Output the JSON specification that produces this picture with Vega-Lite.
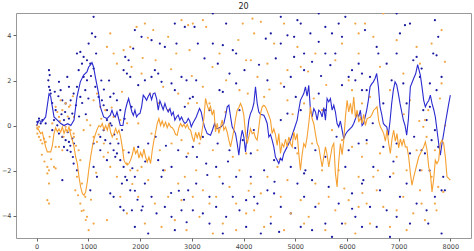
{
  "$schema": "https://vega.github.io/schema/vega-lite/v6.json",
  "width": 455,
  "height": 225,
  "autosize": "none",
  "padding": {"left": 16, "top": 13, "right": 3, "bottom": 13},
  "background": "white",
  "title": {"text": "20", "fontSize": 8, "fontWeight": "normal", "font": "DejaVu Sans", "color": "#222", "offset": 2},
  "config": {
    "view": {"stroke": "#999", "strokeWidth": 1},
    "axis": {"grid": false, "domain": false, "labelFontSize": 6.5, "labelFont": "DejaVu Sans", "labelColor": "#444", "tickColor": "#666", "tickSize": 3, "title": null, "labelPadding": 2}
  },
  "datasets": {
    "bp": [
      {"x":13,"y":0.16},{"x":45,"y":0.31},{"x":77,"y":0.09},{"x":109,"y":0.24},{"x":174,"y":0.09},{"x":238,"y":2.46},{"x":251,"y":2.24},{"x":225,"y":2.01},{"x":238,"y":1.72},{"x":257,"y":1.57},{"x":270,"y":1.42},{"x":431,"y":1.94},{"x":592,"y":2.16},{"x":624,"y":1.72},{"x":463,"y":1.57},{"x":496,"y":1.12},{"x":560,"y":0.98},{"x":657,"y":1.12},{"x":367,"y":0.68},{"x":335,"y":0.24},{"x":528,"y":0.24},{"x":624,"y":0.31},{"x":689,"y":0.53},{"x":431,"y":-0.36},{"x":496,"y":-0.51},{"x":560,"y":-0.65},{"x":624,"y":-0.73},{"x":689,"y":-0.58},{"x":528,"y":-0.95},{"x":592,"y":-1.1},{"x":657,"y":-1.17},{"x":721,"y":-0.8},{"x":496,"y":-2.43},{"x":302,"y":-0.21},{"x":399,"y":0.01},
      {"x":1101,"y":4.83},{"x":1069,"y":4.09},{"x":1134,"y":3.94},{"x":1005,"y":3.64},{"x":844,"y":3.27},{"x":779,"y":3.2},{"x":908,"y":3.05},{"x":973,"y":2.9},{"x":1037,"y":2.75},{"x":1101,"y":2.53},{"x":876,"y":2.75},{"x":812,"y":2.46},{"x":908,"y":2.16},{"x":973,"y":2.01},{"x":779,"y":1.72},{"x":715,"y":1.42},{"x":844,"y":1.27},{"x":940,"y":1.57},{"x":1134,"y":1.72},{"x":1198,"y":1.27},{"x":1262,"y":1.12},{"x":1295,"y":0.9},{"x":1359,"y":0.68},{"x":1423,"y":1.27},{"x":1488,"y":1.42},{"x":1552,"y":1.12},{"x":1617,"y":0.68},{"x":1681,"y":2.46},{"x":1745,"y":2.31},{"x":1810,"y":2.16},{"x":1713,"y":3.05},{"x":1778,"y":2.9},{"x":1359,"y":0.24},{"x":1423,"y":0.09},{"x":1295,"y":-0.21},{"x":1230,"y":-0.51},{"x":1327,"y":-0.65},{"x":1423,"y":-0.8},{"x":1488,"y":-1.1},{"x":1552,"y":-1.24},{"x":1520,"y":-1.39},{"x":1617,"y":-1.54},{"x":1681,"y":-1.84},{"x":1713,"y":-2.28},{"x":1745,"y":-2.43},{"x":1649,"y":-2.58},{"x":1423,"y":-3.02},{"x":1488,"y":-3.17},{"x":1617,"y":-3.62},{"x":1681,"y":-3.77},{"x":1810,"y":-2.88},{"x":1842,"y":-3.77},{"x":715,"y":-1.69},{"x":779,"y":-1.99},{"x":1101,"y":-1.84},{"x":1166,"y":-2.28},{"x":1037,"y":-2.88},{"x":1230,"y":-1.1},{"x":1359,"y":-1.54},{"x":1101,"y":-0.8},
      {"x":2672,"y":4.53},{"x":2865,"y":4.38},{"x":1899,"y":4.24},{"x":2028,"y":3.94},{"x":2221,"y":3.79},{"x":2382,"y":3.64},{"x":2479,"y":3.49},{"x":2704,"y":3.64},{"x":1867,"y":3.42},{"x":2286,"y":2.46},{"x":2350,"y":2.31},{"x":2221,"y":2.16},{"x":2415,"y":1.94},{"x":2608,"y":1.87},{"x":2801,"y":2.16},{"x":2898,"y":2.01},{"x":2672,"y":1.57},{"x":2865,"y":0.83},{"x":2962,"y":1.2},{"x":1964,"y":1.79},{"x":2093,"y":2.01},{"x":1835,"y":0.83},{"x":1964,"y":-0.95},{"x":2157,"y":-0.8},{"x":2350,"y":-1.54},{"x":2447,"y":-1.99},{"x":2608,"y":-1.84},{"x":2737,"y":-1.1},{"x":2898,"y":-1.39},{"x":1899,"y":-2.28},{"x":2093,"y":-2.58},{"x":2221,"y":-3.17},{"x":2028,"y":-3.77},{"x":2318,"y":-3.91},{"x":2479,"y":-3.62},{"x":2608,"y":-4.06},{"x":2801,"y":-3.77},{"x":2930,"y":-2.88},{"x":1899,"y":-4.51},{"x":2157,"y":-4.8},{"x":2672,"y":-4.65},{"x":2415,"y":-2.28},
      {"x":3407,"y":4.98},{"x":3664,"y":4.53},{"x":3053,"y":4.38},{"x":3117,"y":3.64},{"x":3407,"y":3.64},{"x":3600,"y":3.57},{"x":3793,"y":3.35},{"x":3858,"y":3.2},{"x":3246,"y":2.98},{"x":3503,"y":2.75},{"x":3729,"y":2.31},{"x":4019,"y":2.46},{"x":3085,"y":2.01},{"x":3536,"y":1.57},{"x":3600,"y":1.49},{"x":3858,"y":1.87},{"x":3020,"y":1.27},{"x":3342,"y":0.68},{"x":3922,"y":0.68},{"x":3020,"y":-0.95},{"x":3214,"y":-0.51},{"x":3729,"y":-1.1},{"x":3986,"y":-0.65},{"x":3278,"y":-1.69},{"x":3471,"y":-1.84},{"x":3858,"y":-2.28},{"x":3085,"y":-2.58},{"x":3600,"y":-2.58},{"x":3342,"y":-3.17},{"x":3793,"y":-3.17},{"x":4051,"y":-3.32},{"x":3020,"y":-3.77},{"x":3214,"y":-3.91},{"x":3471,"y":-3.62},{"x":3664,"y":-4.06},{"x":3922,"y":-3.77},{"x":3342,"y":-4.36},{"x":3600,"y":-4.8},{"x":4051,"y":-4.51},
      {"x":4721,"y":4.83},{"x":5043,"y":4.68},{"x":5107,"y":4.53},{"x":4528,"y":4.09},{"x":4850,"y":4.01},{"x":4979,"y":3.94},{"x":4431,"y":3.86},{"x":4721,"y":3.64},{"x":4979,"y":3.05},{"x":5172,"y":3.2},{"x":4624,"y":2.98},{"x":5172,"y":2.46},{"x":4914,"y":2.16},{"x":4463,"y":2.01},{"x":4785,"y":1.72},{"x":5011,"y":1.27},{"x":4721,"y":0.24},{"x":4850,"y":0.53},{"x":5107,"y":0.68},{"x":4141,"y":-1.24},{"x":4592,"y":-1.54},{"x":4914,"y":-1.84},{"x":5172,"y":-2.13},{"x":4399,"y":-1.99},{"x":4141,"y":-2.28},{"x":4463,"y":-2.88},{"x":4592,"y":-3.02},{"x":5043,"y":-2.58},{"x":4206,"y":-3.17},{"x":4270,"y":-3.47},{"x":4721,"y":-3.62},{"x":5172,"y":-3.17},{"x":4914,"y":-3.91},{"x":4528,"y":-4.36},{"x":4689,"y":-4.73},{"x":5107,"y":-4.51},{"x":4335,"y":-4.8},
      {"x":5455,"y":4.98},{"x":5970,"y":4.83},{"x":5583,"y":4.38},{"x":5712,"y":4.09},{"x":5841,"y":4.53},{"x":5294,"y":4.09},{"x":5455,"y":3.72},{"x":5905,"y":3.94},{"x":5583,"y":3.2},{"x":5776,"y":3.2},{"x":5326,"y":2.83},{"x":5680,"y":2.68},{"x":6099,"y":2.46},{"x":6227,"y":2.75},{"x":6292,"y":2.31},{"x":6034,"y":2.16},{"x":6163,"y":2.01},{"x":5905,"y":1.79},{"x":5455,"y":1.42},{"x":6292,"y":1.57},{"x":5583,"y":0.68},{"x":5390,"y":-1.1},{"x":5583,"y":-1.39},{"x":5197,"y":-1.99},{"x":6034,"y":-1.1},{"x":6227,"y":-0.8},{"x":5970,"y":-1.84},{"x":5326,"y":-2.43},{"x":6292,"y":-2.58},{"x":5648,"y":-2.73},{"x":6099,"y":-3.02},{"x":5841,"y":-3.47},{"x":5390,"y":-3.62},{"x":6163,"y":-4.06},{"x":5583,"y":-4.36},{"x":5905,"y":-4.36},{"x":5326,"y":-4.65},{"x":6292,"y":-4.51},{"x":5712,"y":-4.95},
      {"x":6962,"y":4.98},{"x":7220,"y":4.53},{"x":7123,"y":4.46},{"x":7026,"y":4.09},{"x":6350,"y":4.24},{"x":6576,"y":3.49},{"x":6608,"y":3.2},{"x":6962,"y":3.2},{"x":7284,"y":2.9},{"x":7348,"y":3.05},{"x":6769,"y":2.75},{"x":7445,"y":2.53},{"x":6447,"y":2.16},{"x":6865,"y":2.01},{"x":6382,"y":1.57},{"x":7091,"y":1.87},{"x":6704,"y":0.98},{"x":7155,"y":0.98},{"x":6382,"y":-0.65},{"x":6704,"y":-0.95},{"x":6962,"y":-0.8},{"x":7220,"y":-1.24},{"x":6511,"y":-1.84},{"x":7413,"y":-1.99},{"x":6833,"y":-2.28},{"x":6318,"y":-2.43},{"x":7155,"y":-2.58},{"x":6640,"y":-2.88},{"x":7026,"y":-3.17},{"x":7348,"y":-3.47},{"x":6447,"y":-3.62},{"x":6769,"y":-3.77},{"x":6962,"y":-4.06},{"x":7220,"y":-4.36},{"x":6576,"y":-4.51},{"x":6833,"y":-4.95},
      {"x":7702,"y":4.68},{"x":7766,"y":3.94},{"x":7670,"y":3.2},{"x":7734,"y":3.12},{"x":7831,"y":2.16},{"x":7605,"y":1.87},{"x":7734,"y":1.57},{"x":7477,"y":0.68},{"x":7605,"y":0.83},{"x":7541,"y":0.24},{"x":7702,"y":-0.21},{"x":7638,"y":-0.65},{"x":7444,"y":-1.1},{"x":7509,"y":-1.24},{"x":7766,"y":-0.95},{"x":7863,"y":-2.28},{"x":7895,"y":-2.88},{"x":7831,"y":-2.88},{"x":7702,"y":-3.17},{"x":7541,"y":-3.77},{"x":7573,"y":-4.36},{"x":7831,"y":-4.8},{"x":7412,"y":2.16},
      {"x":300,"y":1.0},{"x":350,"y":1.5},{"x":420,"y":1.3},{"x":480,"y":0.5},{"x":550,"y":0.6},{"x":600,"y":-0.3},{"x":650,"y":-0.9},{"x":700,"y":-1.4},{"x":760,"y":0.9},{"x":820,"y":0.4},{"x":880,"y":1.0},{"x":950,"y":0.5},{"x":1000,"y":1.2},{"x":1050,"y":2.2},{"x":1150,"y":3.2},{"x":1250,"y":2.0},{"x":1300,"y":1.6},{"x":1400,"y":2.0},{"x":1450,"y":0.0},{"x":1500,"y":-0.4},{"x":1580,"y":-0.8},{"x":1650,"y":-0.2},{"x":1700,"y":0.3},{"x":1780,"y":-1.2},{"x":1850,"y":-1.9},{"x":1900,"y":-2.9},{"x":1950,"y":-3.3},{"x":2050,"y":-3.6},{"x":2100,"y":-1.6},{"x":2300,"y":-0.5},{"x":2500,"y":-0.9},{"x":2600,"y":-3.0},{"x":2750,"y":-2.9},{"x":2850,"y":-3.3},{"x":2900,"y":-4.3},{"x":3100,"y":-1.4},{"x":3300,"y":-2.2},{"x":3500,"y":-0.8},{"x":3700,"y":-1.6},{"x":4200,"y":-0.2},{"x":4300,"y":2.7},{"x":4600,"y":-2.5},{"x":5000,"y":-1.0},{"x":5500,"y":2.2},{"x":5800,"y":-0.5},{"x":6100,"y":-3.7},{"x":6500,"y":0.1},{"x":6900,"y":-1.6},{"x":7300,"y":-0.5},{"x":7600,"y":-2.0}
    ],
    "op": [
      {"x":5,"y":0.01},{"x":13,"y":-0.14},{"x":45,"y":-0.06},{"x":13,"y":-0.36},{"x":45,"y":-0.51},{"x":77,"y":-0.65},{"x":109,"y":-0.8},{"x":141,"y":-0.58},{"x":174,"y":-0.73},{"x":206,"y":-1.84},{"x":238,"y":-1.99},{"x":206,"y":-2.13},{"x":238,"y":-2.58},{"x":206,"y":-3.32},{"x":238,"y":-3.47},{"x":335,"y":-1.84},{"x":367,"y":-1.91},{"x":431,"y":0.38},{"x":367,"y":0.83},{"x":496,"y":0.68},{"x":560,"y":0.98},{"x":463,"y":1.12},{"x":624,"y":0.83},{"x":721,"y":0.38},{"x":431,"y":-0.95},{"x":496,"y":-1.1},{"x":657,"y":-0.21},{"x":721,"y":-0.51},{"x":367,"y":-0.95},{"x":302,"y":0.09},{"x":560,"y":-0.06},
      {"x":1423,"y":4.09},{"x":1359,"y":3.49},{"x":1488,"y":3.2},{"x":1552,"y":2.75},{"x":1681,"y":3.35},{"x":1810,"y":3.49},{"x":1101,"y":1.12},{"x":1166,"y":1.42},{"x":1230,"y":0.83},{"x":1327,"y":0.68},{"x":1488,"y":0.38},{"x":1617,"y":0.24},{"x":908,"y":-0.21},{"x":973,"y":0.24},{"x":1037,"y":0.01},{"x":1101,"y":-0.51},{"x":1166,"y":-0.73},{"x":812,"y":-1.1},{"x":844,"y":-1.54},{"x":779,"y":-2.28},{"x":876,"y":-2.58},{"x":940,"y":-3.17},{"x":844,"y":-3.47},{"x":973,"y":-4.06},{"x":1101,"y":-4.36},{"x":1005,"y":-4.65},{"x":908,"y":-3.77},{"x":1681,"y":-1.1},{"x":1745,"y":-1.69},{"x":1810,"y":-1.99},{"x":1552,"y":-2.28},{"x":1617,"y":-3.17},{"x":1745,"y":-3.91},{"x":1359,"y":-4.21},{"x":715,"y":-0.36},{"x":747,"y":-2.88},{"x":1295,"y":-1.39},{"x":1423,"y":-1.84},
      {"x":2093,"y":4.53},{"x":2930,"y":4.46},{"x":1932,"y":4.38},{"x":2254,"y":4.24},{"x":2543,"y":3.94},{"x":2801,"y":4.68},{"x":1835,"y":2.61},{"x":2028,"y":2.31},{"x":2189,"y":1.42},{"x":2447,"y":1.72},{"x":2737,"y":1.42},{"x":2930,"y":0.98},{"x":2543,"y":0.68},{"x":1964,"y":0.09},{"x":2221,"y":-0.36},{"x":2382,"y":-1.1},{"x":2608,"y":-0.8},{"x":2801,"y":-0.65},{"x":2930,"y":-1.24},{"x":2028,"y":-1.84},{"x":2157,"y":-2.43},{"x":2479,"y":-1.99},{"x":2737,"y":-2.58},{"x":2865,"y":-2.28},{"x":1964,"y":-3.17},{"x":2286,"y":-3.47},{"x":2543,"y":-3.17},{"x":2801,"y":-3.32},{"x":2093,"y":-4.36},{"x":2415,"y":-4.51},{"x":2672,"y":-4.21},{"x":2898,"y":-4.65},
      {"x":3020,"y":4.53},{"x":3278,"y":4.38},{"x":3214,"y":4.68},{"x":3986,"y":4.53},{"x":2956,"y":3.35},{"x":3536,"y":3.2},{"x":4051,"y":2.9},{"x":3664,"y":2.01},{"x":3922,"y":1.57},{"x":3214,"y":1.72},{"x":3342,"y":0.98},{"x":4083,"y":1.42},{"x":3149,"y":-0.8},{"x":3407,"y":-1.1},{"x":3793,"y":-1.39},{"x":4051,"y":-1.24},{"x":3085,"y":-1.99},{"x":3536,"y":-2.28},{"x":3922,"y":-1.99},{"x":3214,"y":-2.88},{"x":3729,"y":-2.73},{"x":3471,"y":-3.17},{"x":3020,"y":-3.17},{"x":3342,"y":-3.47},{"x":3858,"y":-3.47},{"x":4051,"y":-3.91},{"x":3149,"y":-4.06},{"x":3600,"y":-4.36},{"x":3858,"y":-4.65},{"x":3407,"y":-4.8},
      {"x":4174,"y":4.75},{"x":4335,"y":4.61},{"x":4785,"y":4.53},{"x":4206,"y":4.09},{"x":4592,"y":3.64},{"x":5043,"y":3.49},{"x":4141,"y":2.9},{"x":4463,"y":2.75},{"x":4850,"y":2.46},{"x":5107,"y":2.61},{"x":4270,"y":2.16},{"x":4721,"y":1.87},{"x":4399,"y":1.27},{"x":4850,"y":1.12},{"x":5172,"y":0.98},{"x":4270,"y":-1.1},{"x":4657,"y":-1.84},{"x":5043,"y":-1.24},{"x":4141,"y":-2.58},{"x":4463,"y":-2.28},{"x":4850,"y":-2.43},{"x":4335,"y":-3.02},{"x":4721,"y":-3.17},{"x":5107,"y":-3.32},{"x":4206,"y":-3.77},{"x":4528,"y":-4.06},{"x":4914,"y":-3.91},{"x":4399,"y":-4.51},{"x":4785,"y":-4.65},{"x":5172,"y":-4.36},
      {"x":6163,"y":4.53},{"x":6227,"y":4.09},{"x":5905,"y":3.64},{"x":5776,"y":2.9},{"x":5390,"y":3.2},{"x":6227,"y":3.2},{"x":6034,"y":2.01},{"x":5358,"y":1.2},{"x":6292,"y":0.98},{"x":5519,"y":0.68},{"x":6099,"y":1.57},{"x":5326,"y":-0.8},{"x":5712,"y":-0.21},{"x":5905,"y":-0.65},{"x":6099,"y":-0.95},{"x":6292,"y":-1.39},{"x":5519,"y":-1.99},{"x":5841,"y":-1.99},{"x":5390,"y":-2.58},{"x":6227,"y":-2.28},{"x":5648,"y":-3.17},{"x":6034,"y":-3.32},{"x":5455,"y":-3.47},{"x":6227,"y":-3.62},{"x":5776,"y":-3.77},{"x":5261,"y":-4.06},{"x":5970,"y":-4.36},{"x":5583,"y":-4.65},{"x":6163,"y":-4.8},
      {"x":6704,"y":4.98},{"x":6350,"y":4.53},{"x":6511,"y":3.94},{"x":6962,"y":3.79},{"x":7348,"y":3.49},{"x":6640,"y":2.61},{"x":7091,"y":2.31},{"x":7413,"y":2.75},{"x":6447,"y":1.27},{"x":6833,"y":1.57},{"x":7220,"y":1.12},{"x":6382,"y":-0.8},{"x":6640,"y":-1.24},{"x":6962,"y":-1.39},{"x":7348,"y":-1.1},{"x":6511,"y":-2.28},{"x":6898,"y":-2.13},{"x":7155,"y":-1.99},{"x":6576,"y":-2.88},{"x":7091,"y":-3.17},{"x":7413,"y":-2.88},{"x":6382,"y":-3.47},{"x":6704,"y":-3.62},{"x":6962,"y":-3.77},{"x":7284,"y":-3.91},{"x":6447,"y":-4.36},{"x":6833,"y":-4.51},{"x":7155,"y":-4.65},
      {"x":7831,"y":4.24},{"x":7638,"y":3.64},{"x":7895,"y":2.83},{"x":7831,"y":1.87},{"x":7799,"y":1.2},{"x":7573,"y":0.68},{"x":7509,"y":0.24},{"x":7541,"y":-0.51},{"x":7477,"y":-0.06},{"x":7702,"y":-1.1},{"x":7444,"y":-1.99},{"x":7638,"y":-2.28},{"x":7766,"y":-2.73},{"x":7863,"y":-2.95},{"x":7702,"y":-3.47},{"x":7734,"y":-3.77},{"x":7509,"y":-4.21},{"x":7444,"y":-3.47},
      {"x":100,"y":-1.3},{"x":150,"y":-1.6},{"x":250,"y":-0.5},{"x":280,"y":-1.5},{"x":400,"y":0.6},{"x":450,"y":0.2},{"x":520,"y":-0.5},{"x":600,"y":0.4},{"x":650,"y":0.9},{"x":700,"y":1.3},{"x":760,"y":-0.9},{"x":800,"y":-3.1},{"x":870,"y":-3.8},{"x":950,"y":-4.2},{"x":1050,"y":-3.3},{"x":1150,"y":-2.1},{"x":1200,"y":-0.4},{"x":1250,"y":0.3},{"x":1300,"y":-0.8},{"x":1380,"y":-1.2},{"x":1450,"y":0.8},{"x":1550,"y":-0.6},{"x":1650,"y":1.5},{"x":1750,"y":0.1},{"x":1850,"y":-2.6},{"x":1950,"y":-2.0},{"x":2050,"y":3.0},{"x":2150,"y":3.9},{"x":2300,"y":2.9},{"x":2350,"y":1.0},{"x":2600,"y":2.5},{"x":2700,"y":3.2},{"x":3000,"y":2.2},{"x":3100,"y":1.0},{"x":3400,"y":2.6},{"x":3650,"y":0.6},{"x":3900,"y":3.8},{"x":4100,"y":-2.9},{"x":4500,"y":1.6},{"x":4700,"y":-1.5},{"x":4950,"y":0.5},{"x":5250,"y":2.4},{"x":5600,"y":1.8},{"x":5950,"y":-2.8},{"x":6300,"y":-3.0},{"x":6600,"y":-2.0},{"x":6800,"y":-0.4},{"x":7100,"y":0.5},{"x":7400,"y":0.2},{"x":7900,"y":0.0}
    ],
    "bl": [
      {"x":0,"y":0},{"x":45,"y":0.23},{"x":100,"y":0.15},{"x":174,"y":0.38},{"x":238,"y":1.4},{"x":270,"y":1.3},{"x":303,"y":0.83},{"x":335,"y":0.38},{"x":400,"y":0.24},{"x":460,"y":0.1},{"x":528,"y":0},{"x":600,"y":0.08},{"x":660,"y":0},{"x":722,"y":0.24},{"x":779,"y":1.27},{"x":844,"y":1.94},{"x":908,"y":2.24},{"x":972,"y":2.38},{"x":1005,"y":2.6},{"x":1037,"y":2.68},{"x":1069,"y":2.8},{"x":1100,"y":2.6},{"x":1134,"y":2.16},{"x":1198,"y":1.42},{"x":1231,"y":0.83},{"x":1295,"y":0.38},{"x":1360,"y":0.31},{"x":1424,"y":0.46},{"x":1456,"y":0.68},{"x":1490,"y":0.45},{"x":1520,"y":0.38},{"x":1553,"y":0.6},{"x":1585,"y":0.3},{"x":1617,"y":0},{"x":1668,"y":0},{"x":1714,"y":0.68},{"x":1750,"y":1.0},{"x":1778,"y":1.2},{"x":1810,"y":0.9},{"x":1842,"y":0.6},{"x":1870,"y":0.45},{"x":1900,"y":0.68},{"x":1932,"y":0.38},{"x":1965,"y":0.5},{"x":1997,"y":0.53},{"x":2029,"y":0.83},{"x":2061,"y":1.35},{"x":2094,"y":1.25},{"x":2126,"y":1.12},{"x":2158,"y":1.3},{"x":2190,"y":1.42},{"x":2222,"y":1.15},{"x":2255,"y":1.42},{"x":2287,"y":1.45},{"x":2319,"y":1.2},{"x":2351,"y":0.68},{"x":2383,"y":1.1},{"x":2415,"y":0.9},{"x":2447,"y":0.7},{"x":2480,"y":0.98},{"x":2512,"y":0.75},{"x":2544,"y":0.6},{"x":2577,"y":0.75},{"x":2609,"y":0.46},{"x":2641,"y":0.6},{"x":2673,"y":0.24},{"x":2705,"y":0.38},{"x":2737,"y":0.46},{"x":2769,"y":0.24},{"x":2802,"y":0.38},{"x":2834,"y":0.2},{"x":2866,"y":0.09},{"x":2898,"y":0.15},{"x":2931,"y":0.31},{"x":2960,"y":0.2},{"x":2990,"y":-0.06},{"x":3020,"y":0.1},{"x":3086,"y":0.38},{"x":3150,"y":0.76},{"x":3182,"y":0.6},{"x":3214,"y":0.24},{"x":3246,"y":-0.06},{"x":3298,"y":-0.36},{"x":3362,"y":-0.43},{"x":3400,"y":-0.2},{"x":3440,"y":0.09},{"x":3470,"y":-0.13},{"x":3504,"y":-0.13},{"x":3568,"y":-0.06},{"x":3620,"y":0.09},{"x":3650,"y":0.4},{"x":3685,"y":0.83},{"x":3717,"y":0.9},{"x":3749,"y":0.4},{"x":3781,"y":-0.06},{"x":3846,"y":-0.36},{"x":3878,"y":-0.8},{"x":3910,"y":-1.32},{"x":3942,"y":-0.65},{"x":3975,"y":-0.21},{"x":4006,"y":-0.5},{"x":4039,"y":-1.17},{"x":4071,"y":-0.4},{"x":4103,"y":0.24},{"x":4135,"y":0.53},{"x":4168,"y":0.7},{"x":4200,"y":0.98},{"x":4232,"y":1.72},{"x":4264,"y":1.0},{"x":4296,"y":0.6},{"x":4329,"y":0.5},{"x":4393,"y":0.46},{"x":4425,"y":0.3},{"x":4458,"y":0.09},{"x":4490,"y":-0.51},{"x":4522,"y":-0.4},{"x":4554,"y":-0.65},{"x":4586,"y":-0.95},{"x":4618,"y":-1.4},{"x":4651,"y":-1.54},{"x":4683,"y":-1.69},{"x":4715,"y":-1.45},{"x":4747,"y":-1.55},{"x":4779,"y":-1.24},{"x":4844,"y":-0.95},{"x":4908,"y":-0.65},{"x":4973,"y":-0.21},{"x":5038,"y":0.24},{"x":5070,"y":0.7},{"x":5101,"y":1.12},{"x":5166,"y":1.42},{"x":5198,"y":1.72},{"x":5230,"y":1.3},{"x":5262,"y":1.79},{"x":5295,"y":0.68},{"x":5327,"y":0.38},{"x":5360,"y":0.75},{"x":5392,"y":0.6},{"x":5424,"y":0.24},{"x":5456,"y":0.68},{"x":5488,"y":0.6},{"x":5521,"y":0.38},{"x":5553,"y":0.8},{"x":5585,"y":0.24},{"x":5617,"y":1.2},{"x":5649,"y":1.05},{"x":5681,"y":1.2},{"x":5714,"y":0.68},{"x":5746,"y":0.9},{"x":5778,"y":0.6},{"x":5810,"y":0.09},{"x":5842,"y":-0.06},{"x":5874,"y":0.2},{"x":5907,"y":-0.21},{"x":5939,"y":-0.58},{"x":5971,"y":-0.4},{"x":6004,"y":-0.28},{"x":6036,"y":-0.2},{"x":6068,"y":-0.13},{"x":6100,"y":-0.05},{"x":6132,"y":0.09},{"x":6165,"y":0.3},{"x":6197,"y":0.53},{"x":6229,"y":0.4},{"x":6261,"y":0.68},{"x":6293,"y":0},{"x":6325,"y":0.1},{"x":6383,"y":0.68},{"x":6415,"y":1.12},{"x":6448,"y":1.72},{"x":6480,"y":1.85},{"x":6512,"y":1.94},{"x":6544,"y":2.09},{"x":6576,"y":2.31},{"x":6609,"y":1.72},{"x":6641,"y":0.83},{"x":6673,"y":0.5},{"x":6705,"y":0.09},{"x":6738,"y":0},{"x":6770,"y":-0.06},{"x":6802,"y":-0.43},{"x":6834,"y":0.2},{"x":6866,"y":0.98},{"x":6898,"y":1.57},{"x":6931,"y":1.94},{"x":6963,"y":1.8},{"x":6995,"y":1.42},{"x":7027,"y":0.98},{"x":7060,"y":0.6},{"x":7092,"y":0.24},{"x":7124,"y":0},{"x":7156,"y":-0.43},{"x":7190,"y":0.3},{"x":7227,"y":1.72},{"x":7259,"y":1.9},{"x":7291,"y":2.09},{"x":7330,"y":2.3},{"x":7368,"y":2.71},{"x":7420,"y":2.24},{"x":7452,"y":1.72},{"x":7485,"y":1.12},{"x":7517,"y":0.83},{"x":7550,"y":1.0},{"x":7582,"y":1.1},{"x":7614,"y":1.35},{"x":7646,"y":0.98},{"x":7680,"y":0.7},{"x":7710,"y":0.38},{"x":7742,"y":-0.2},{"x":7775,"y":-0.8},{"x":7807,"y":-1.32},{"x":7839,"y":-0.8},{"x":7871,"y":-0.36},{"x":7904,"y":0.1},{"x":7936,"y":0.53},{"x":7968,"y":0.95},{"x":8000,"y":1.35}
    ],
    "ol": [
      {"x":0,"y":-0.06},{"x":40,"y":-0.2},{"x":77,"y":-0.36},{"x":110,"y":-0.3},{"x":142,"y":-0.65},{"x":174,"y":-0.95},{"x":206,"y":-1.17},{"x":240,"y":-1.17},{"x":271,"y":-1.17},{"x":303,"y":-0.9},{"x":335,"y":-0.36},{"x":367,"y":-0.1},{"x":400,"y":-0.28},{"x":432,"y":-0.15},{"x":464,"y":-0.3},{"x":497,"y":-0.06},{"x":529,"y":-0.35},{"x":561,"y":-0.15},{"x":593,"y":-0.28},{"x":625,"y":-0.06},{"x":657,"y":-0.4},{"x":690,"y":-0.65},{"x":722,"y":-0.95},{"x":754,"y":-1.4},{"x":786,"y":-1.69},{"x":818,"y":-2.28},{"x":850,"y":-2.73},{"x":883,"y":-3.02},{"x":915,"y":-3.1},{"x":947,"y":-2.95},{"x":979,"y":-2.51},{"x":1011,"y":-1.91},{"x":1043,"y":-1.4},{"x":1076,"y":-0.95},{"x":1108,"y":-0.6},{"x":1140,"y":-0.36},{"x":1172,"y":-0.15},{"x":1204,"y":0},{"x":1237,"y":-0.06},{"x":1269,"y":0.09},{"x":1301,"y":-0.2},{"x":1334,"y":0},{"x":1366,"y":-0.21},{"x":1398,"y":0.1},{"x":1430,"y":-0.3},{"x":1462,"y":-0.51},{"x":1495,"y":-0.35},{"x":1527,"y":-0.13},{"x":1559,"y":-0.35},{"x":1591,"y":-0.2},{"x":1623,"y":-0.51},{"x":1655,"y":-0.95},{"x":1688,"y":-1.54},{"x":1720,"y":-1.69},{"x":1752,"y":-1.76},{"x":1784,"y":-1.69},{"x":1816,"y":-1.54},{"x":1849,"y":-1.3},{"x":1881,"y":-0.95},{"x":1913,"y":-1.25},{"x":1946,"y":-1.1},{"x":1978,"y":-1.45},{"x":2010,"y":-1.2},{"x":2042,"y":-1.4},{"x":2074,"y":-1.05},{"x":2106,"y":-1.4},{"x":2139,"y":-1.62},{"x":2171,"y":-1.4},{"x":2203,"y":-1.69},{"x":2236,"y":-1.1},{"x":2268,"y":-0.65},{"x":2300,"y":-0.3},{"x":2332,"y":0.09},{"x":2364,"y":0.31},{"x":2396,"y":0},{"x":2428,"y":0.2},{"x":2460,"y":-0.05},{"x":2493,"y":0.15},{"x":2525,"y":-0.1},{"x":2557,"y":0.1},{"x":2589,"y":-0.06},{"x":2621,"y":-0.1},{"x":2653,"y":-0.2},{"x":2686,"y":-0.4},{"x":2718,"y":-0.43},{"x":2750,"y":-0.1},{"x":2783,"y":0.09},{"x":2815,"y":-0.05},{"x":2847,"y":0.05},{"x":2880,"y":-0.1},{"x":2912,"y":0.05},{"x":2944,"y":-0.15},{"x":2976,"y":-0.2},{"x":3009,"y":-0.51},{"x":3041,"y":-0.73},{"x":3073,"y":-0.3},{"x":3105,"y":-0.55},{"x":3137,"y":-0.3},{"x":3169,"y":-0.65},{"x":3201,"y":-0.2},{"x":3234,"y":0.31},{"x":3266,"y":1.2},{"x":3298,"y":0.9},{"x":3330,"y":0.68},{"x":3362,"y":0.85},{"x":3395,"y":0.46},{"x":3427,"y":0.7},{"x":3459,"y":-0.28},{"x":3491,"y":0.1},{"x":3523,"y":-0.35},{"x":3556,"y":-0.06},{"x":3588,"y":0.25},{"x":3620,"y":-0.2},{"x":3652,"y":-0.06},{"x":3685,"y":-0.3},{"x":3717,"y":-0.65},{"x":3749,"y":-0.95},{"x":3781,"y":-0.6},{"x":3814,"y":-0.21},{"x":3846,"y":0.3},{"x":3878,"y":0.68},{"x":3910,"y":0.8},{"x":3942,"y":0.98},{"x":3974,"y":0.8},{"x":4006,"y":0.46},{"x":4039,"y":-0.35},{"x":4071,"y":-0.8},{"x":4103,"y":-0.5},{"x":4135,"y":-0.15},{"x":4168,"y":-0.36},{"x":4200,"y":-0.3},{"x":4232,"y":-0.55},{"x":4264,"y":-0.65},{"x":4296,"y":-0.1},{"x":4329,"y":0.53},{"x":4361,"y":0.83},{"x":4393,"y":0.9},{"x":4425,"y":0.83},{"x":4458,"y":0.65},{"x":4490,"y":0.45},{"x":4522,"y":0.24},{"x":4554,"y":-0.36},{"x":4586,"y":-0.15},{"x":4618,"y":-0.4},{"x":4651,"y":-0.88},{"x":4683,"y":-0.36},{"x":4715,"y":-1.24},{"x":4747,"y":-0.8},{"x":4779,"y":-0.95},{"x":4812,"y":-0.6},{"x":4844,"y":-0.95},{"x":4876,"y":-0.51},{"x":4908,"y":-0.8},{"x":4941,"y":-0.95},{"x":4973,"y":-0.28},{"x":5005,"y":-0.65},{"x":5037,"y":-0.36},{"x":5069,"y":-1.24},{"x":5101,"y":-1.99},{"x":5133,"y":-1.3},{"x":5166,"y":-0.8},{"x":5198,"y":-0.95},{"x":5230,"y":-0.51},{"x":5262,"y":0.09},{"x":5295,"y":0.83},{"x":5327,"y":0.3},{"x":5359,"y":0.09},{"x":5391,"y":-0.36},{"x":5424,"y":-0.8},{"x":5456,"y":-0.95},{"x":5488,"y":-1.4},{"x":5521,"y":-1.84},{"x":5553,"y":-1.4},{"x":5585,"y":-0.95},{"x":5617,"y":-1.3},{"x":5649,"y":-1.84},{"x":5681,"y":-1.4},{"x":5714,"y":-0.95},{"x":5746,"y":-0.8},{"x":5778,"y":-2.13},{"x":5810,"y":-2.73},{"x":5842,"y":-1.6},{"x":5874,"y":-0.8},{"x":5907,"y":-1.3},{"x":5939,"y":-0.65},{"x":5971,"y":0.38},{"x":6004,"y":1.12},{"x":6036,"y":0.6},{"x":6068,"y":0.98},{"x":6100,"y":0.5},{"x":6132,"y":1.27},{"x":6165,"y":0.35},{"x":6197,"y":0.68},{"x":6229,"y":0.15},{"x":6261,"y":0.35},{"x":6293,"y":0.09},{"x":6325,"y":0.5},{"x":6357,"y":0},{"x":6390,"y":0.3},{"x":6422,"y":0.35},{"x":6454,"y":0.38},{"x":6486,"y":0.5},{"x":6518,"y":0.68},{"x":6550,"y":0.75},{"x":6583,"y":0.83},{"x":6615,"y":0.2},{"x":6647,"y":-0.06},{"x":6680,"y":-0.2},{"x":6712,"y":-0.36},{"x":6744,"y":-0.7},{"x":6776,"y":-0.2},{"x":6808,"y":-0.8},{"x":6840,"y":-1.24},{"x":6872,"y":-0.6},{"x":6905,"y":-0.21},{"x":6937,"y":-0.7},{"x":6969,"y":-0.36},{"x":7001,"y":-1.0},{"x":7034,"y":-0.6},{"x":7066,"y":-0.88},{"x":7098,"y":-0.6},{"x":7130,"y":-0.95},{"x":7162,"y":-0.95},{"x":7195,"y":-1.4},{"x":7227,"y":-2.13},{"x":7259,"y":-2.65},{"x":7291,"y":-2.3},{"x":7324,"y":-1.99},{"x":7356,"y":-1.7},{"x":7388,"y":-1.4},{"x":7420,"y":-1.25},{"x":7452,"y":-1.1},{"x":7485,"y":-0.95},{"x":7517,"y":-0.73},{"x":7550,"y":-1.1},{"x":7582,"y":-1.84},{"x":7614,"y":-2.13},{"x":7646,"y":-2.95},{"x":7678,"y":-2.4},{"x":7710,"y":-1.54},{"x":7742,"y":-1.7},{"x":7775,"y":-1.54},{"x":7807,"y":-0.8},{"x":7839,"y":-0.65},{"x":7871,"y":-0.8},{"x":7904,"y":-1.4},{"x":7936,"y":-2.28},{"x":7968,"y":-2.35},{"x":8000,"y":-2.43}
    ]
  },
  "encoding": {
    "x": {"field": "x", "type": "quantitative", "scale": {"domain": [-400, 8400], "nice": false, "zero": false}, "axis": {"values": [0,1000,2000,3000,4000,5000,6000,7000,8000], "format": "d"}},
    "y": {"field": "y", "type": "quantitative", "scale": {"domain": [-5, 5], "nice": false}, "axis": {"values": [-4,-2,0,2,4]}}
  },
  "layer": [
    {"data": {"name": "bp"}, "mark": {"type": "circle", "size": 5, "color": "#1a1aa0", "opacity": 1, "clip": true}},
    {"data": {"name": "op"}, "mark": {"type": "circle", "size": 5, "color": "#f2a646", "opacity": 1, "clip": true}},
    {"data": {"name": "bl"}, "mark": {"type": "line", "color": "#2a2ad0", "strokeWidth": 1.1, "clip": true}},
    {"data": {"name": "ol"}, "mark": {"type": "line", "color": "#f5a030", "strokeWidth": 1.1, "clip": true}}
  ]
}
